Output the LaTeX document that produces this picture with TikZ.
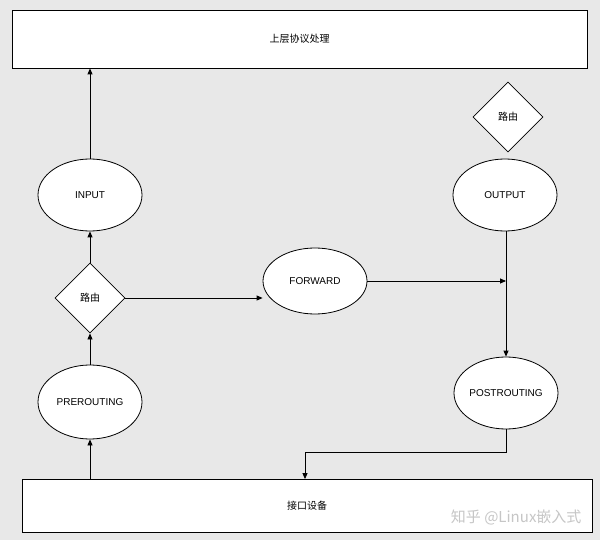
\documentclass[tikz,border=0pt]{standalone}
\usepackage{fontspec}
\setmainfont{Liberation Sans}
\newfontfamily\cjk{Noto Sans CJK SC}
\usetikzlibrary{shapes.geometric,arrows.meta}
\begin{document}
\begin{tikzpicture}[x=1pt,y=-1pt,
  every node/.style={font=\fontsize{10}{12}\selectfont},
  box/.style={draw,fill=white,line width=0.8pt,minimum width=#1,minimum height=53pt,inner sep=0pt},
  ell/.style={draw,fill=white,ellipse,line width=0.8pt,minimum width=104pt,minimum height=72pt,inner sep=0pt},
  dia/.style={draw,fill=white,diamond,line width=0.8pt,minimum width=70pt,minimum height=70pt,inner sep=0pt},
  arr/.style={draw,line width=0.8pt,-{Triangle[length=6pt,width=5pt]}}]
\fill[gray!18] (0,0) rectangle (600,540);
\useasboundingbox (0,0) rectangle (600,540);
\node[box=575pt,minimum height=58pt] (top) at (299.5,39) {\cjk 上层协议处理};
\node[box=570pt] (bot) at (307,506) {\cjk 接口设备};
\node[ell] (in) at (90,195) {INPUT};
\node[dia] (r1) at (90,298) {\cjk 路由};
\node[ell,minimum height=74pt] (pre) at (90,402) {PREROUTING};
\node[ell,minimum height=66pt] (fwd) at (315,281) {FORWARD};
\node[dia] (r2) at (508,117) {\cjk 路由};
\node[ell] (out) at (505,195) {OUTPUT};
\node[ell] (post) at (506,393) {POSTROUTING};
\coordinate (j) at (506,281);
\coordinate (k1) at (506,452);
\coordinate (k2) at (305,452);
\draw[arr] (bot.north -| pre) -- (pre);
\draw[arr] (pre) -- (r1);
\draw[arr] (r1) -- (in);
\draw[arr] (in) -- (top.south -| in);
\draw[arr] (r1.east) -- (r1.east -| fwd.west);
\draw[arr] (fwd.east |- j) -- (j);
\draw[arr] (out.south -| post) -- (post);
\draw[arr] (post.south) -- (k1) -- (k2) -- (k2 |- bot.north);
\node[text=gray!45,font=\cjk\fontsize{15}{18}\selectfont,anchor=east] (wm) at (585,517) {知乎 @Linux嵌入式};
\end{tikzpicture}
\end{document}
